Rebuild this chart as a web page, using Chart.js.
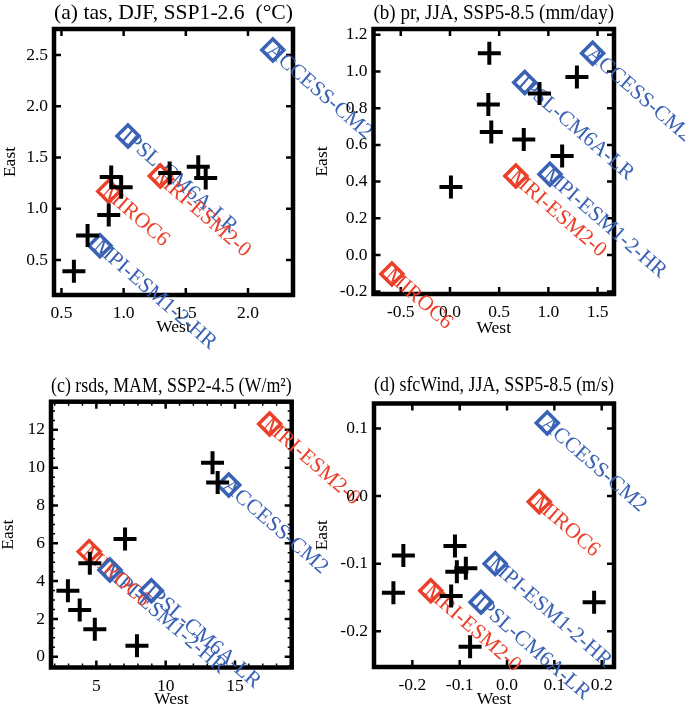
<!DOCTYPE html>
<html>
<head>
<meta charset="utf-8">
<script src="https://cdn.jsdelivr.net/npm/chart.js@4.4.1/dist/chart.umd.min.js"></script>
<style>
  body { margin: 0; background: #fff; overflow: hidden; }
  #wrap { position: relative; width: 685px; height: 711px; }
  #wrap canvas { position: absolute; left: 0; top: 0; }
</style>
</head>
<body>
<div id="wrap">
  <canvas id="chartA" width="685" height="711"></canvas>
  <canvas id="chartB" width="685" height="711"></canvas>
  <canvas id="chartC" width="685" height="711"></canvas>
  <canvas id="chartD" width="685" height="711"></canvas>
</div>
<script>
// model names
const blueModels = ['ACCESS-CM2', 'IPSL-CM6A-LR', 'MPI-ESM1-2-HR'];
const redModels = ['MIROC6', 'MRI-ESM2-0'];

// (a) tas, DJF, SSP1-2.6
const tasCrossWest = [0.60, 0.71, 0.88, 0.90, 0.98, 1.37, 1.60, 1.66];
const tasCrossEast = [0.39, 0.74, 0.94, 1.31, 1.21, 1.35, 1.41, 1.30];
const tasBlueWest = [2.20, 1.035, 0.81];
const tasBlueEast = [2.55, 1.71, 0.64];
const tasRedWest = [0.88, 1.295];
const tasRedEast = [1.17, 1.32];

// (b) pr, JJA, SSP5-8.5
const prCrossWest = [0.40, 0.39, 0.42, 0.75, 0.91, 1.29, 1.14, 0.01];
const prCrossEast = [1.10, 0.82, 0.67, 0.63, 0.88, 0.97, 0.54, 0.37];
const prBlueWest = [1.45, 0.76, 1.016];
const prBlueEast = [1.10, 0.94, 0.44];
const prRedWest = [-0.59, 0.67];
const prRedEast = [-0.104, 0.43];

// (c) rsds, MAM, SSP2-4.5
const rsdsCrossWest = [2.95, 3.8, 4.53, 4.89, 7.07, 7.93, 13.38, 13.75];
const rsdsCrossEast = [3.49, 2.47, 4.94, 1.45, 6.23, 0.58, 10.26, 9.21];
const rsdsBlueWest = [14.55, 8.97, 5.98];
const rsdsBlueEast = [9.08, 3.49, 4.59];
const rsdsRedWest = [4.48, 17.5];
const rsdsRedEast = [5.56, 12.31];

// (d) sfcWind, JJA, SSP5-8.5
const windCrossWest = [-0.219, -0.24, -0.11, -0.087, -0.106, -0.118, -0.078, 0.184];
const windCrossEast = [-0.088, -0.143, -0.074, -0.107, -0.112, -0.148, -0.223, -0.157];
const windBlueWest = [0.085, -0.055, -0.025];
const windBlueEast = [0.108, -0.157, -0.10];
const windRedWest = [0.068, -0.161];
const windRedEast = [-0.0084, -0.140];

const BLUE = 'rgb(58,98,180)';
const RED = 'rgb(234,64,42)';

Chart.defaults.font.family = '"Liberation Serif", "Times New Roman", serif';
Chart.defaults.color = '#000';

function pts(xs, ys) {
    return xs.map((v, i) => ({ x: v, y: ys[i] }));
}

function fmt(digits) {
    return v => (Math.abs(v) < 1e-9 ? 0 : v).toFixed(digits);
}

// frame, inward ticks and rotated model labels
const panelDecor = {
    id: 'panelDecor',
    beforeDatasetsDraw(chart, args, opts) {
        const { ctx, chartArea: a, scales: { x, y } } = chart;
        ctx.save();
        ctx.strokeStyle = '#000';
        ctx.lineWidth = 2.5;
        ctx.beginPath();
        x.ticks.forEach(t => {
            const px = x.getPixelForValue(t.value);
            ctx.moveTo(px, a.bottom); ctx.lineTo(px, a.bottom - 7);
            ctx.moveTo(px, a.top); ctx.lineTo(px, a.top + 7);
        });
        y.ticks.forEach(t => {
            const py = y.getPixelForValue(t.value);
            ctx.moveTo(a.left, py); ctx.lineTo(a.left + 7, py);
            ctx.moveTo(a.right, py); ctx.lineTo(a.right - 7, py);
        });
        ctx.stroke();
        if (opts.minorX) {
            ctx.lineWidth = 1.5;
            ctx.beginPath();
            for (let v = Math.ceil(x.min / opts.minorX) * opts.minorX; v <= x.max; v += opts.minorX) {
                const px = x.getPixelForValue(v);
                ctx.moveTo(px, a.bottom); ctx.lineTo(px, a.bottom - 4);
                ctx.moveTo(px, a.top); ctx.lineTo(px, a.top + 4);
            }
            for (let v = Math.ceil(y.min / opts.minorY) * opts.minorY; v <= y.max; v += opts.minorY) {
                const py = y.getPixelForValue(v);
                ctx.moveTo(a.left, py); ctx.lineTo(a.left + 4, py);
                ctx.moveTo(a.right, py); ctx.lineTo(a.right - 4, py);
            }
            ctx.stroke();
        }
        ctx.lineWidth = 4.5;
        ctx.lineJoin = 'miter';
        ctx.strokeRect(a.left, a.top, a.right - a.left, a.bottom - a.top);

        ctx.font = '21.5px "Liberation Serif"';
        ctx.textBaseline = 'middle';
        ctx.textAlign = 'left';
        chart.data.datasets.forEach((ds, i) => {
            if (!ds.modelNames) return;
            chart.getDatasetMeta(i).data.forEach((el, j) => {
                ctx.save();
                ctx.translate(el.x, el.y);
                ctx.rotate(41 * Math.PI / 180);
                ctx.fillStyle = ds.pointBorderColor;
                ctx.fillText(ds.modelNames[j], -4, 1);
                ctx.restore();
            });
        });
        ctx.restore();
    }
};

function makePanel(id, p) {
    return new Chart(document.getElementById(id), {
        type: 'scatter',
        data: {
            datasets: [
                {
                    data: pts(p.crossWest, p.crossEast),
                    pointStyle: 'cross',
                    pointRadius: 11.5,
                    pointHoverRadius: 11.5,
                    pointBorderWidth: 4,
                    pointBorderColor: '#000',
                    clip: false
                },
                {
                    data: pts(p.blueWest, p.blueEast),
                    modelNames: blueModels,
                    pointStyle: 'rectRot',
                    pointRadius: 11,
                    pointHoverRadius: 11,
                    pointBorderWidth: 3.5,
                    pointBorderColor: BLUE,
                    pointBackgroundColor: 'rgba(0,0,0,0)',
                    clip: false
                },
                {
                    data: pts(p.redWest, p.redEast),
                    modelNames: redModels,
                    pointStyle: 'rectRot',
                    pointRadius: 11,
                    pointHoverRadius: 11,
                    pointBorderWidth: 3.5,
                    pointBorderColor: RED,
                    pointBackgroundColor: 'rgba(0,0,0,0)',
                    clip: false
                }
            ]
        },
        options: {
            responsive: false,
            animation: false,
            devicePixelRatio: 1,
            events: [],
            layout: { padding: p.pad },
            plugins: {
                legend: { display: false },
                tooltip: { enabled: false },
                title: {
                    display: true,
                    text: p.title,
                    fullSize: false,
                    font: { size: 22, weight: 'normal', lineHeight: 1 },
                    color: '#000',
                    padding: { top: 0, bottom: p.titleGap }
                },
                panelDecor: { minorX: p.minorX, minorY: p.minorY }
            },
            scales: {
                x: {
                    type: 'linear',
                    min: p.xMin, max: p.xMax,
                    grid: { display: false, drawTicks: false },
                    border: { display: false },
                    ticks: {
                        stepSize: p.xStep, includeBounds: false, autoSkip: false, maxRotation: 0,
                        padding: 8, font: { size: 17.5 }, color: '#000', callback: fmt(p.xDigits)
                    },
                    title: { display: true, text: 'West', font: { size: 17.5, lineHeight: 1 }, padding: 0, color: '#000' },
                    afterFit: s => { s.height = p.xH; }
                },
                y: {
                    type: 'linear',
                    min: p.yMin, max: p.yMax,
                    grid: { display: false, drawTicks: false },
                    border: { display: false },
                    ticks: {
                        stepSize: p.yStep, includeBounds: false, autoSkip: false,
                        padding: 6, font: { size: 17.5 }, color: '#000', callback: fmt(p.yDigits)
                    },
                    title: { display: true, text: 'East', font: { size: 17.5, lineHeight: 1 }, padding: 0, color: '#000' },
                    afterFit: s => { s.width = p.yW; }
                }
            }
        },
        plugins: [panelDecor]
    });
}

makePanel('chartA', {
    title: '(a) tas, DJF, SSP1-2.6  (°C)',
    crossWest: tasCrossWest, crossEast: tasCrossEast,
    blueWest: tasBlueWest, blueEast: tasBlueEast,
    redWest: tasRedWest, redEast: tasRedEast,
    xMin: 0.44, xMax: 2.362, xStep: 0.5, xDigits: 1,
    yMin: 0.159, yMax: 2.754, yStep: 0.5, yDigits: 1,
    pad: { left: 1.5, top: 2, right: 392, bottom: 374.5 },
    titleGap: 5, yW: 52.5, xH: 41.5
});

makePanel('chartB', {
    title: '(b) pr, JJA, SSP5-8.5 (mm/day)',
    crossWest: prCrossWest, crossEast: prCrossEast,
    blueWest: prBlueWest, blueEast: prBlueEast,
    redWest: prRedWest, redEast: prRedEast,
    xMin: -0.777, xMax: 1.667, xStep: 0.5, xDigits: 1,
    yMin: -0.213, yMax: 1.232, yStep: 0.2, yDigits: 1,
    pad: { left: 313.2, top: 2, right: 71, bottom: 373.5 },
    titleGap: 5, yW: 60.3, xH: 43.5
});

makePanel('chartC', {
    title: '(c) rsds, MAM, SSP2-4.5 (W/m²)',
    crossWest: rsdsCrossWest, crossEast: rsdsCrossEast,
    blueWest: rsdsBlueWest, blueEast: rsdsBlueEast,
    redWest: rsdsRedWest, redEast: rsdsRedEast,
    xMin: 1.73, xMax: 19.09, xStep: 5, xDigits: 0,
    yMin: -0.57, yMax: 13.49, yStep: 2, yDigits: 0,
    minorX: 1, minorY: 0.5,
    pad: { left: 0, top: 375.7, right: 393.3, bottom: 2.5 },
    titleGap: 4, yW: 51, xH: 41
});

makePanel('chartD', {
    title: '(d) sfcWind, JJA, SSP5-8.5 (m/s)',
    crossWest: windCrossWest, crossEast: windCrossEast,
    blueWest: windBlueWest, blueEast: windBlueEast,
    redWest: windRedWest, redEast: windRedEast,
    xMin: -0.281, xMax: 0.226, xStep: 0.1, xDigits: 1,
    yMin: -0.253, yMax: 0.137, yStep: 0.1, yDigits: 1,
    pad: { left: 313.2, top: 374, right: 71, bottom: 2.5 },
    titleGap: 7.5, yW: 60.8, xH: 41.5
});
</script>
</body>
</html>
